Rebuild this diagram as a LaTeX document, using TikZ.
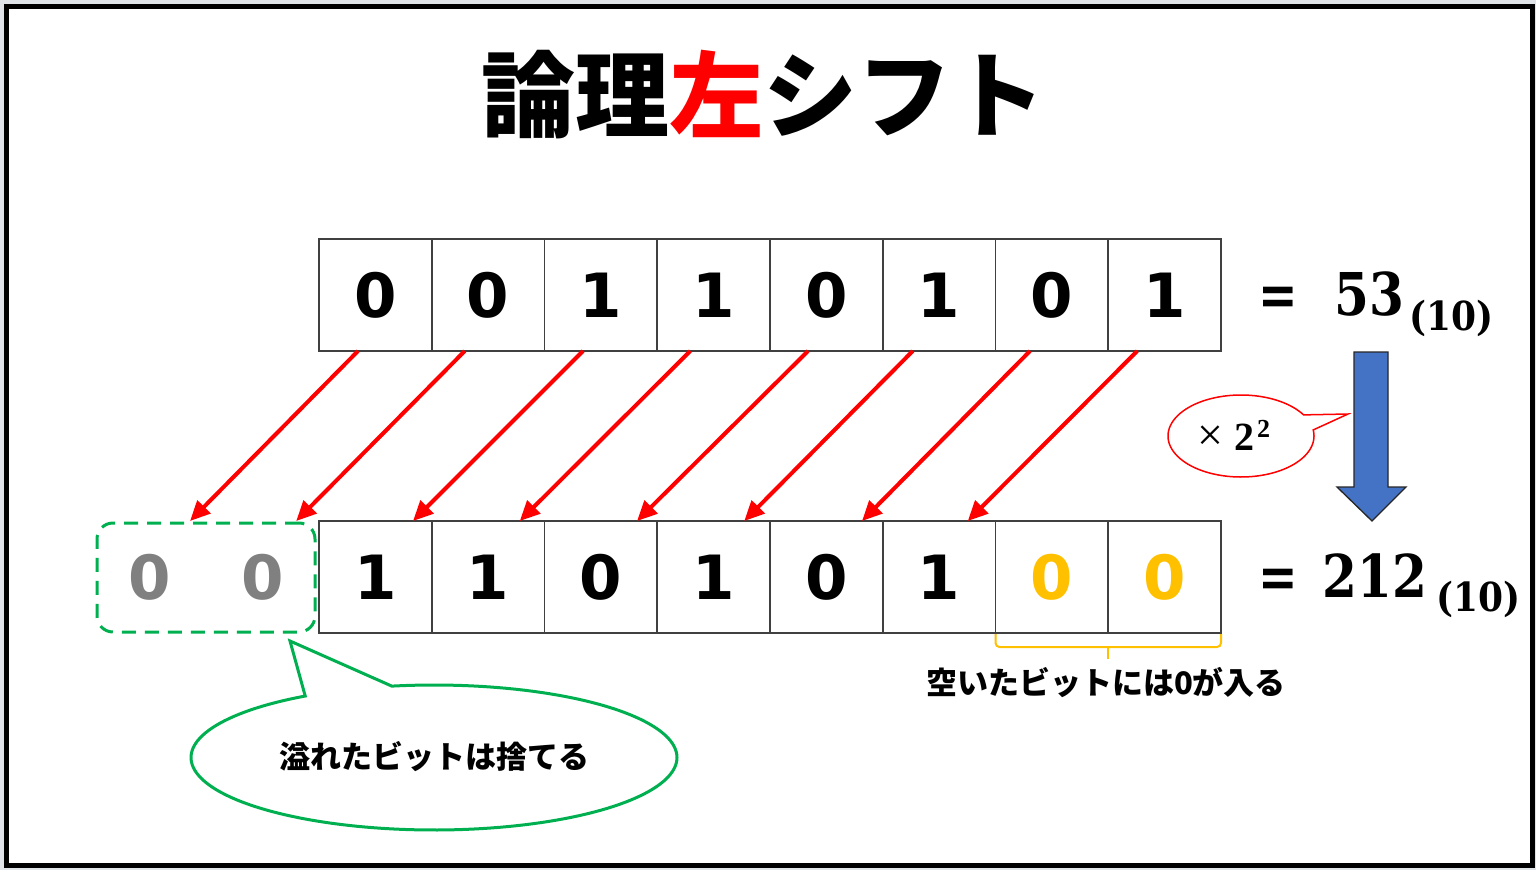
\documentclass[tikz,border=0pt]{standalone}
\usepackage{fontspec}
\setmainfont{Liberation Serif}
\newfontfamily\jpfont{Noto Sans CJK JP}
\newfontfamily\digfont{DejaVu Sans}
\newfontfamily\valfont{DejaVu Serif}
\usetikzlibrary{arrows.meta,calc}
\definecolor{bggray}{RGB}{224,227,232}
\definecolor{cellline}{RGB}{64,64,64}
\definecolor{goldbit}{RGB}{255,192,0}
\definecolor{lostgray}{RGB}{128,128,128}
\definecolor{okgreen}{RGB}{0,176,80}
\definecolor{blockblue}{RGB}{68,114,196}
\newcommand{\narrow}[2]{\scalebox{#1}[1]{#2}}
\begin{document}
\begin{tikzpicture}[x=1pt,y=-1pt,
  bitcell/.style={draw=cellline, line width=1.6pt, minimum width=112.75pt, minimum height=112pt,
    inner sep=0pt, outer sep=0pt, font={\digfont\bfseries\fontsize{61}{61}\selectfont}},
  ghostcell/.style={minimum width=112.75pt, minimum height=112pt, inner sep=0pt, outer sep=0pt,
    text=lostgray, font={\digfont\bfseries\fontsize{61}{61}\selectfont}},
  shiftarrow/.style={draw=red, line width=4pt, -{Triangle[length=20pt,width=18pt]}},
  mathbig/.style={inner sep=0pt, anchor=base west, font={\valfont\bfseries\fontsize{59}{59}\selectfont}},
  mathsub/.style={inner sep=0pt, anchor=base west, font={\valfont\bfseries\fontsize{40}{40}\selectfont}},
  jplabel/.style={inner sep=0pt, font={\jpfont\bfseries\fontsize{31}{31}\selectfont}},
  goldline/.style={draw=goldbit, line width=2pt},
]
\useasboundingbox (0,0) rectangle (1536,870);
\fill[bggray] (0,0) rectangle (1536,870);
\draw[line width=5pt, fill=white] (6.5,6.5) rectangle (1532.5,865.5);

% title
\node[inner sep=0pt, font={\jpfont\bfseries\fontsize{94}{94}\selectfont}] (title) at (763,95)
  {論理\textcolor{red}{左}シフト};

% top row
\foreach \b [count=\i from 0] in {0,0,1,1,0,1,0,1}
  \node[bitcell] (t\i) at ({319+112.75*(\i+0.5)},295) {\b};

% bottom row
\foreach \b/\c [count=\i from 0] in {1/black,1/black,0/black,1/black,0/black,1/black,0/goldbit,0/goldbit}
  \node[bitcell, text=\c] (b\i) at ({319+112.75*(\i+0.5)},577) {\b};

% overflowed bits
\node[ghostcell] (g0) at (149.9,577) {0};
\node[ghostcell] (g1) at (262.6,577) {0};
\node[draw=okgreen, line width=3pt, dash pattern=on 14pt off 9pt, rounded corners=16pt,
  minimum width=218pt, minimum height=109pt, inner sep=0pt] (lostbox) at (206,577.5) {};

% shift arrows
\foreach \s/\e/\tgt [count=\i from 0] in {39/96.5/g0, 33/90/g1, 38.5/94/b0, 33/88/b1, 38/92.5/b2, 30/87/b3, 34.5/92/b4, 29/85/b5}
  \draw[shiftarrow] ($(t\i.south west)+(\s,0)$) -- ($(\tgt.north west)+(\e,0)$);

% values
\node[mathbig] (eqA) at (1258,315) {\narrow{0.8}{=}};
\node[mathbig] (n53) at (1334,315) {\narrow{0.85}{53}};
\node[mathsub] (s53) at (1409,330) {\narrow{0.9}{(10)}};
\node[mathbig] (eqB) at (1258,597) {\narrow{0.8}{=}};
\node[mathbig] (n212) at (1322,597) {\narrow{0.85}{212}};
\node[mathsub] (s212) at (1436,611) {\narrow{0.9}{(10)}};

% blue block arrow
\draw[fill=blockblue, draw=black!85, line width=1.3pt]
  (1354,352) -- (1388,352) -- (1388,487) -- (1406,487) -- (1372,521) -- (1337,487) -- (1354,487) -- cycle;

% red callout
\draw[red, line width=1.5pt, fill=white]
  plot[domain=351.5:689, samples=120] ({1241+73*cos(\x)},{436+41*sin(\x)}) -- (1348,414) -- cycle;
\node[anchor=base west, inner sep=0pt, font={\fontsize{46}{46}\selectfont}] (mulsign) at (1197,450) {×};
\node[anchor=base west, inner sep=0pt, font={\bfseries\fontsize{40}{40}\selectfont}] (two) at (1234,450) {2};
\node[anchor=base west, inner sep=0pt, font={\bfseries\fontsize{26}{26}\selectfont}] (twosup) at (1257,437) {2};

% green speech bubble
\draw[okgreen, line width=3pt]
  plot[domain=260:598, samples=160] ({434+243*cos(\x)},{757.5+72.5*sin(\x)}) -- (290,641) -- cycle;
\node[jplabel] (droplabel) at (434,757) {溢れたビットは捨てる};

% yellow bracket
\draw[goldline, rounded corners=4pt] ($(b6.south west)+(0,1)$) -- ++(0,13) -| ($(b7.south east)+(0,1)$);
\draw[goldline] ($(b6.south east)+(0,14)$) -- ++(0,12);
\node[jplabel] (filllabel) at (1106,683) {空いたビットには0が入る};
\end{tikzpicture}
\end{document}
